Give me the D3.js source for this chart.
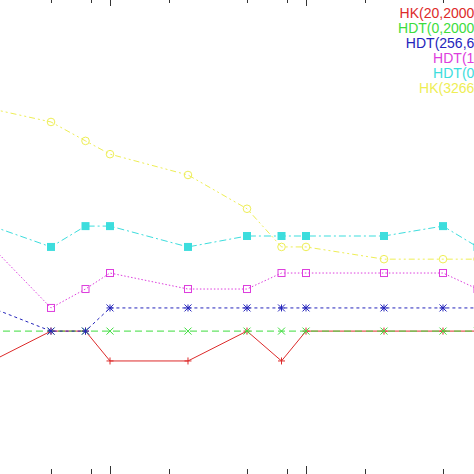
<!DOCTYPE html>
<html>
<head>
<meta charset="utf-8">
<script src="https://cdn.jsdelivr.net/npm/d3@7"></script>
<style>
  body { margin: 0; background: #fff; }
  svg { display: block; }
</style>
</head>
<body>
<svg id="chart" width="474" height="474"></svg>
<script>
// x positions shared by every series (log axis)
const xValues = [0.25, 0.5, 0.75, 1, 2.5, 5, 7.5, 10, 25, 50, 75];

const labels = ["HK(20,2000)", "HDT(0,2000)", "HDT(256,6)", "HDT(1)", "HDT(0)", "HK(3266)"];
const hk20 = [3, 4, 4, 3, 3, 4, 3, 4, 4, 4, 4];
const hdt02000 = [4, 4, 4, 4, 4, 4, 4, 4, 4, 4, 4];
const hdt256 = [5, 4, 4, 5, 5, 5, 5, 5, 5, 5, 5];
const hdt1 = [9, 5, 6, 7, 6, 6, 7, 7, 7, 7, 6];
const hdt0 = [11, 9, 11, 11, 9, 10, 10, 10, 10, 11, 9];
const hk3266 = [34, 30, 25, 22, 18, 13, 9, 9, 8, 8, 8];

const majorTicks = [1, 10];
const minorTicks = [0.5, 0.8, 2, 5, 8, 20, 50];

const WIDTH = 474, HEIGHT = 474;
const svg = d3.select("#chart");

// the plot frame sits just outside the visible picture
const x = d3.scaleLog().domain([0.1, 100]).range([-86, 502]);
const y = d3.scaleLog().domain([1, 100]).range([475, -3]);

const series = [
  { name: labels[0], values: hk20, color: "#dd2a2a", dash: null, marker: "plus" },
  { name: labels[1], values: hdt02000, color: "#3ddc3d", dash: "7,4", marker: "cross" },
  { name: labels[2], values: hdt256, color: "#2424bb", dash: "3,3", marker: "star" },
  { name: labels[3], values: hdt1, color: "#dd3ddd", dash: "1.5,2", marker: "square" },
  { name: labels[4], values: hdt0, color: "#3ddddd", dash: "7,3,2,3", marker: "fsquare" },
  { name: labels[5], values: hk3266, color: "#eeee55", dash: "6,3,2,3,2,3", marker: "circle" },
];

// tick marks on top and bottom edges
function tickRow(axisFn, ypos, values, size) {
  const g = svg.append("g")
    .attr("transform", `translate(0,${ypos})`)
    .call(axisFn(x).tickValues(values).tickFormat("").tickSize(size));
  g.select(".domain").remove();
  g.selectAll("line").attr("stroke", "#333");
}
tickRow(d3.axisTop, 475, minorTicks, 6);
tickRow(d3.axisTop, 475, majorTicks, 9);
tickRow(d3.axisBottom, -3, minorTicks, 6);
tickRow(d3.axisBottom, -3, majorTicks, 9);

const line = d3.line()
  .x((d) => x(d[0]))
  .y((d) => y(d[1]));

function drawMarker(g, kind, color) {
  const s = 3.5;
  if (kind === "plus" || kind === "star") {
    g.append("path").attr("d", `M${-s},0H${s}M0,${-s}V${s}`)
      .attr("stroke", color).attr("fill", "none");
  }
  if (kind === "cross" || kind === "star") {
    g.append("path").attr("d", `M${-s},${-s}L${s},${s}M${-s},${s}L${s},${-s}`)
      .attr("stroke", color).attr("fill", "none");
  }
  if (kind === "square") {
    g.append("rect").attr("x", -s).attr("y", -s).attr("width", 2 * s).attr("height", 2 * s)
      .attr("stroke", color).attr("fill", "none");
  }
  if (kind === "fsquare") {
    g.append("rect").attr("x", -s - 0.5).attr("y", -s - 0.5).attr("width", 2 * s + 1).attr("height", 2 * s + 1)
      .attr("fill", color);
  }
  if (kind === "circle") {
    g.append("circle").attr("r", s + 0.3)
      .attr("stroke", color).attr("fill", "none");
  }
}

const plotG = svg.append("g");
series.forEach((s) => {
  const pts = xValues.map((xv, i) => [xv, s.values[i]]);
  plotG.append("path")
    .datum(pts)
    .attr("d", line)
    .attr("fill", "none")
    .attr("stroke", s.color)
    .attr("stroke-width", 1)
    .attr("stroke-dasharray", s.dash);
  pts.forEach((p) => {
    const g = plotG.append("g")
      .attr("transform", `translate(${x(p[0])},${y(p[1])})`);
    drawMarker(g, s.marker, s.color);
  });
});

// key, top right, text right aligned (samples fall outside the picture)
const keyG = svg.append("g")
  .attr("font-family", "'Liberation Sans', Arial, sans-serif")
  .attr("font-size", 14)
  .attr("text-anchor", "end");
keyG.append("rect")
  .attr("x", 395).attr("y", 7).attr("width", 90).attr("height", 90)
  .attr("fill", "#fff");
keyG.selectAll("text")
  .data(series)
  .join("text")
  .attr("x", 479)
  .attr("y", (_, i) => 18 + i * 15)
  .attr("fill", (d) => d.color)
  .text((d) => d.name);
</script>
</body>
</html>
